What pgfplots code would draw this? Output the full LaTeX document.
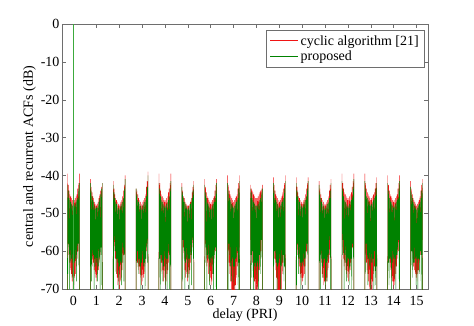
\documentclass[border=0pt]{standalone}
\usepackage{pgfplots}
\usepackage{pgfplotstable}
\pgfplotsset{compat=1.18}
\usepackage{fontspec}
\setmainfont{Liberation Serif}
\definecolor{mred}{RGB}{240,20,20}
\definecolor{mgreen}{RGB}{0,130,0}
\definecolor{spikegreen}{RGB}{60,170,60}
\definecolor{axgray}{RGB}{110,110,110}

\pgfplotstableread{
off c0 c1 c2 c3 c4 c5 c6 c7 c8 c9 c10 c11 c12 c13 c14 c15
-0.265 -100 -100 -100 -100 -100 -100 -100 -100 -100 -100 -100 -100 -100 -100 -100 -100
-0.2600 -39.5 -41 -41.5 -43.5 -39.5 -42 -41 -40 -42.5 -40.5 -40.5 -41.5 -39.5 -39.5 -40 -41.5
-0.2414 -58 -60 -57 -59 -61 -56 -58 -60 -57 -59 -58 -60 -57 -61 -59 -58
-0.2229 -42.5 -43 -43.5 -44 -42 -44 -43 -42.5 -43.5 -42.5 -43 -43.5 -42 -42 -42.5 -43.5
-0.2043 -61 -62 -60 -63 -62 -59 -61 -63 -60 -62 -61 -60 -62 -63 -61 -60
-0.1857 -44 -44.5 -45 -45 -44 -45.5 -44.5 -44 -44 -44 -44.5 -45 -43.5 -43.5 -44 -45
-0.1671 -63 -64 -62 -65 -63 -62 -64 -66 -63 -65 -62 -63 -64 -65 -63 -62
-0.1486 -45 -45.5 -46 -46 -45 -46 -45.5 -45 -44.5 -45 -45.5 -46 -44.5 -44.5 -45 -46
-0.1300 -65 -63 -66 -64 -66 -65 -63 -68 -65 -67 -64 -66 -63 -66 -65 -64
-0.1114 -45.5 -46 -46.5 -46.5 -45.5 -47 -46 -45.5 -45 -45.5 -46 -46.5 -45 -45 -45.5 -46.5
-0.0929 -66 -65 -67 -66 -65 -67 -66 -70 -68 -71 -66 -67 -65 -68 -67 -65
-0.0743 -46 -47 -47 -47 -46 -47.5 -46.5 -46 -45.5 -46 -46.5 -47 -45.5 -45.5 -46 -47
-0.0557 -68 -66 -69 -67 -68 -66 -68 -72 -70 -73 -67 -69 -66 -70 -68 -66
-0.0371 -46.5 -47.5 -47.5 -47.5 -46.5 -48 -47 -46.5 -46 -46.5 -47 -47.5 -46 -46 -46.5 -47.5
-0.0186 -70 -67 -68 -69 -67 -68 -67 -74 -71 -75 -69 -68 -67 -72 -70 -67
0.0000 -47 -48 -48 -48 -47 -48 -47.5 -47 -46 -47 -47.5 -48 -46.5 -46.5 -47 -48
0.0186 -69 -68 -70 -68 -69 -67 -69 -73 -72 -74 -68 -70 -68 -71 -69 -68
0.0371 -46.5 -47.5 -47.5 -47 -46.5 -48 -47 -46.5 -46 -46.5 -47 -47.5 -46 -46 -46.5 -47.5
0.0557 -67 -66 -68 -67 -68 -66 -68 -71 -70 -72 -67 -68 -66 -70 -68 -66
0.0743 -46 -47 -47 -46.5 -46 -47.5 -46.5 -46 -45.5 -46 -46.5 -47 -45.5 -45.5 -46 -47
0.0929 -66 -65 -67 -66 -66 -65 -66 -69 -68 -70 -66 -67 -65 -68 -66 -65
0.1114 -45.5 -46 -46.5 -46 -45.5 -47 -46 -45.5 -45 -45.5 -46 -46.5 -45 -45 -45.5 -46.5
0.1300 -64 -63 -65 -64 -65 -63 -64 -67 -65 -66 -64 -65 -63 -66 -64 -63
0.1486 -45 -45 -45.5 -45 -44.5 -46 -45.5 -45 -44.5 -44.5 -45 -45.5 -44.5 -44.5 -45 -45.5
0.1671 -62 -61 -63 -62 -63 -61 -62 -64 -62 -63 -62 -63 -61 -64 -62 -61
0.1857 -43.5 -44 -44 -43 -43.5 -44.5 -44 -43.5 -44 -43.5 -43.5 -44 -43 -43.5 -43.5 -44
0.2043 -60 -59 -61 -60 -61 -59 -60 -62 -60 -61 -60 -61 -59 -62 -60 -59
0.2229 -42 -43 -42.5 -41.5 -42 -43 -42.5 -42 -43.5 -42 -42 -42.5 -41.5 -42 -42 -42.5
0.2414 -57 -58 -56 -58 -59 -57 -58 -59 -57 -58 -57 -59 -56 -60 -58 -57
0.2600 -39.5 -42 -40 -39 -39.5 -41.5 -41 -40 -42.5 -40 -40.5 -41 -39.5 -40.5 -40 -41
0.265 -100 -100 -100 -100 -100 -100 -100 -100 -100 -100 -100 -100 -100 -100 -100 -100
}\redtab

\pgfplotstableread{
off c0 c1 c2 c3 c4 c5 c6 c7 c8 c9 c10 c11 c12 c13 c14 c15
-0.265 -100 -100 -100 -100 -100 -100 -100 -100 -100 -100 -100 -100 -100 -100 -100 -100
-0.2600 -42.5 -42 -42.5 -43.5 -42 -43 -42.5 -42 -43.5 -42 -42 -42.5 -41.5 -41.5 -42 -43
-0.2414 -66 -64 -70 -63 -62 -68 -63 -71 -61 -64 -69 -63 -61 -66 -63 -64
-0.2229 -44 -44 -44.5 -45 -43.5 -44.5 -44.5 -44 -44.5 -44 -44 -44.5 -43.5 -43.5 -44 -44.5
-0.2043 -58 -68 -57 -60 -71 -57 -59 -58 -67 -60 -58 -70 -57 -58 -69 -60
-0.1857 -46 -45.5 -46 -46.5 -45.5 -46 -46 -46 -46 -46 -45.5 -46 -45.5 -45.5 -46 -46
-0.1671 -70 -62 -60 -66 -61 -60 -72 -61 -60 -62 -66 -62 -70 -61 -62 -67
-0.1486 -46.5 -46.5 -47 -47 -46.5 -47 -47 -46.5 -46.5 -46.5 -46.5 -47 -46.5 -46 -46.5 -47
-0.1300 -63 -61 -66 -62 -63 -70 -61 -64 -72 -63 -62 -64 -61 -69 -62 -63
-0.1114 -47 -47 -47.5 -47.5 -47 -47.5 -47.5 -47 -47 -47 -47 -47.5 -47 -46.5 -47 -47.5
-0.0929 -62 -70 -62 -64 -68 -63 -62 -68 -64 -70 -63 -67 -63 -62 -71 -63
-0.0743 -47.5 -48 -48 -48 -47.5 -48 -48 -47.5 -47.5 -47.5 -47.5 -48 -47.5 -47 -47.5 -48
-0.0557 -67 -62 -63 -71 -64 -62 -69 -62 -63 -64 -70 -63 -68 -64 -63 -62
-0.0371 -48 -48.5 -48.5 -48.5 -48 -48.5 -48.5 -48 -48 -48 -48 -48.5 -48 -47.5 -48 -48.5
-0.0186 -63 -64 -70 -63 -62 -67 -63 -64 -68 -63 -64 -62 -64 -70 -62 -69
0.0000 -48.5 -48.5 -49 -49 -48.5 -49 -49 -48.5 -48 -48.5 -48.5 -49 -48.5 -48 -48.5 -49
0.0186 -71 -63 -64 -62 -69 -62 -64 -70 -64 -62 -63 -71 -62 -63 -67 -62
0.0371 -48 -48.5 -48.5 -48 -48 -48.5 -48.5 -48 -48 -48 -48 -48.5 -48 -47.5 -48 -48.5
0.0557 -63 -68 -63 -64 -62 -70 -62 -64 -63 -71 -64 -63 -69 -63 -62 -70
0.0743 -47.5 -48 -48 -47.5 -47.5 -48 -48 -47.5 -47.5 -47.5 -47.5 -48 -47.5 -47 -47.5 -48
0.0929 -62 -64 -69 -63 -71 -62 -66 -62 -70 -64 -62 -68 -64 -62 -70 -62
0.1114 -47 -47 -47.5 -47 -47 -47.5 -47.5 -47 -47 -47 -47 -47.5 -47 -46.5 -47 -47.5
0.1300 -68 -62 -63 -70 -62 -61 -71 -62 -61 -63 -69 -61 -62 -70 -61 -66
0.1486 -46.5 -46 -47 -46.5 -46.5 -47 -47 -46.5 -46.5 -46.5 -46.5 -47 -46.5 -46 -46.5 -47
0.1671 -60 -70 -59 -62 -60 -69 -61 -60 -66 -61 -60 -62 -70 -60 -61 -60
0.1857 -46 -45 -46 -45.5 -45.5 -46 -46 -46 -46 -46 -45.5 -46 -45.5 -45.5 -46 -46
0.2043 -58 -59 -68 -59 -70 -57 -59 -71 -57 -68 -58 -57 -58 -69 -57 -70
0.2229 -43.5 -43.5 -43.5 -43 -43.5 -44 -44 -43.5 -44.5 -43.5 -43.5 -44 -43 -43.5 -43.5 -44
0.2414 -64 -69 -61 -63 -64 -62 -70 -63 -62 -64 -61 -70 -62 -64 -68 -61
0.2600 -42 -42 -41 -40 -41.5 -42.5 -42 -41.5 -43.5 -41.5 -41.5 -42 -41 -42 -41.5 -42
0.265 -100 -100 -100 -100 -100 -100 -100 -100 -100 -100 -100 -100 -100 -100 -100 -100
}\greentab

\begin{document}
\begin{tikzpicture}
\begin{axis}[
  scale only axis,
  width=366pt, height=265pt,
  xmin=-0.5, xmax=15.5,
  ymin=-70, ymax=0,
  xtick={0,1,...,15},
  ytick={-70,-60,...,0},
  tick align=inside,
  major tick length=4pt,
  axis line style={axgray},
  every tick/.style={axgray},
  tick label style={font=\fontsize{14}{16}\selectfont, black},
  xticklabel style={yshift=-4pt},
  yticklabel style={xshift=1pt},
  /pgf/number format/assume math mode=true,
  label style={font=\fontsize{14}{16}\selectfont},
  xlabel={delay (PRI)},
  ylabel={central and recurrent ACFs (dB)},
  xlabel style={at={(axis description cs:0.5,0)}, anchor=north, inner sep=1pt, yshift=-19pt},
  ylabel style={yshift=-2pt},
  clip=true,
  legend style={at={(0.989,0.977)}, anchor=north east, draw=axgray,
    font=\fontsize{14}{16}\selectfont, row sep=0pt, inner sep=3pt},
  legend cell align=left,
  legend image code/.code={\draw[#1] (0pt,0pt) -- (28pt,0pt);},
  legend image post style={line width=1.1pt},
]
\addplot[mred, line width=0.4pt] table[x expr=\thisrow{off}+0, y=c0] {\redtab};
\addlegendentry{cyclic algorithm [21]}
\pgfplotsinvokeforeach{1,...,15}{
  \addplot[mred, line width=0.4pt, forget plot] table[x expr=\thisrow{off}+#1, y=c#1] {\redtab};
}
\addplot[mgreen, line width=0.4pt] table[x expr=\thisrow{off}+0, y=c0] {\greentab};
\addlegendentry{proposed}
\pgfplotsinvokeforeach{1,...,15}{
  \addplot[mgreen, line width=0.4pt, forget plot] table[x expr=\thisrow{off}+#1, y=c#1] {\greentab};
}
\addplot[spikegreen, line width=1.6pt, forget plot] coordinates {(0,-100) (0,0)};
\end{axis}
\path[use as bounding box] (-62pt,-36pt) rectangle (412pt,289pt);
\end{tikzpicture}
\end{document}
